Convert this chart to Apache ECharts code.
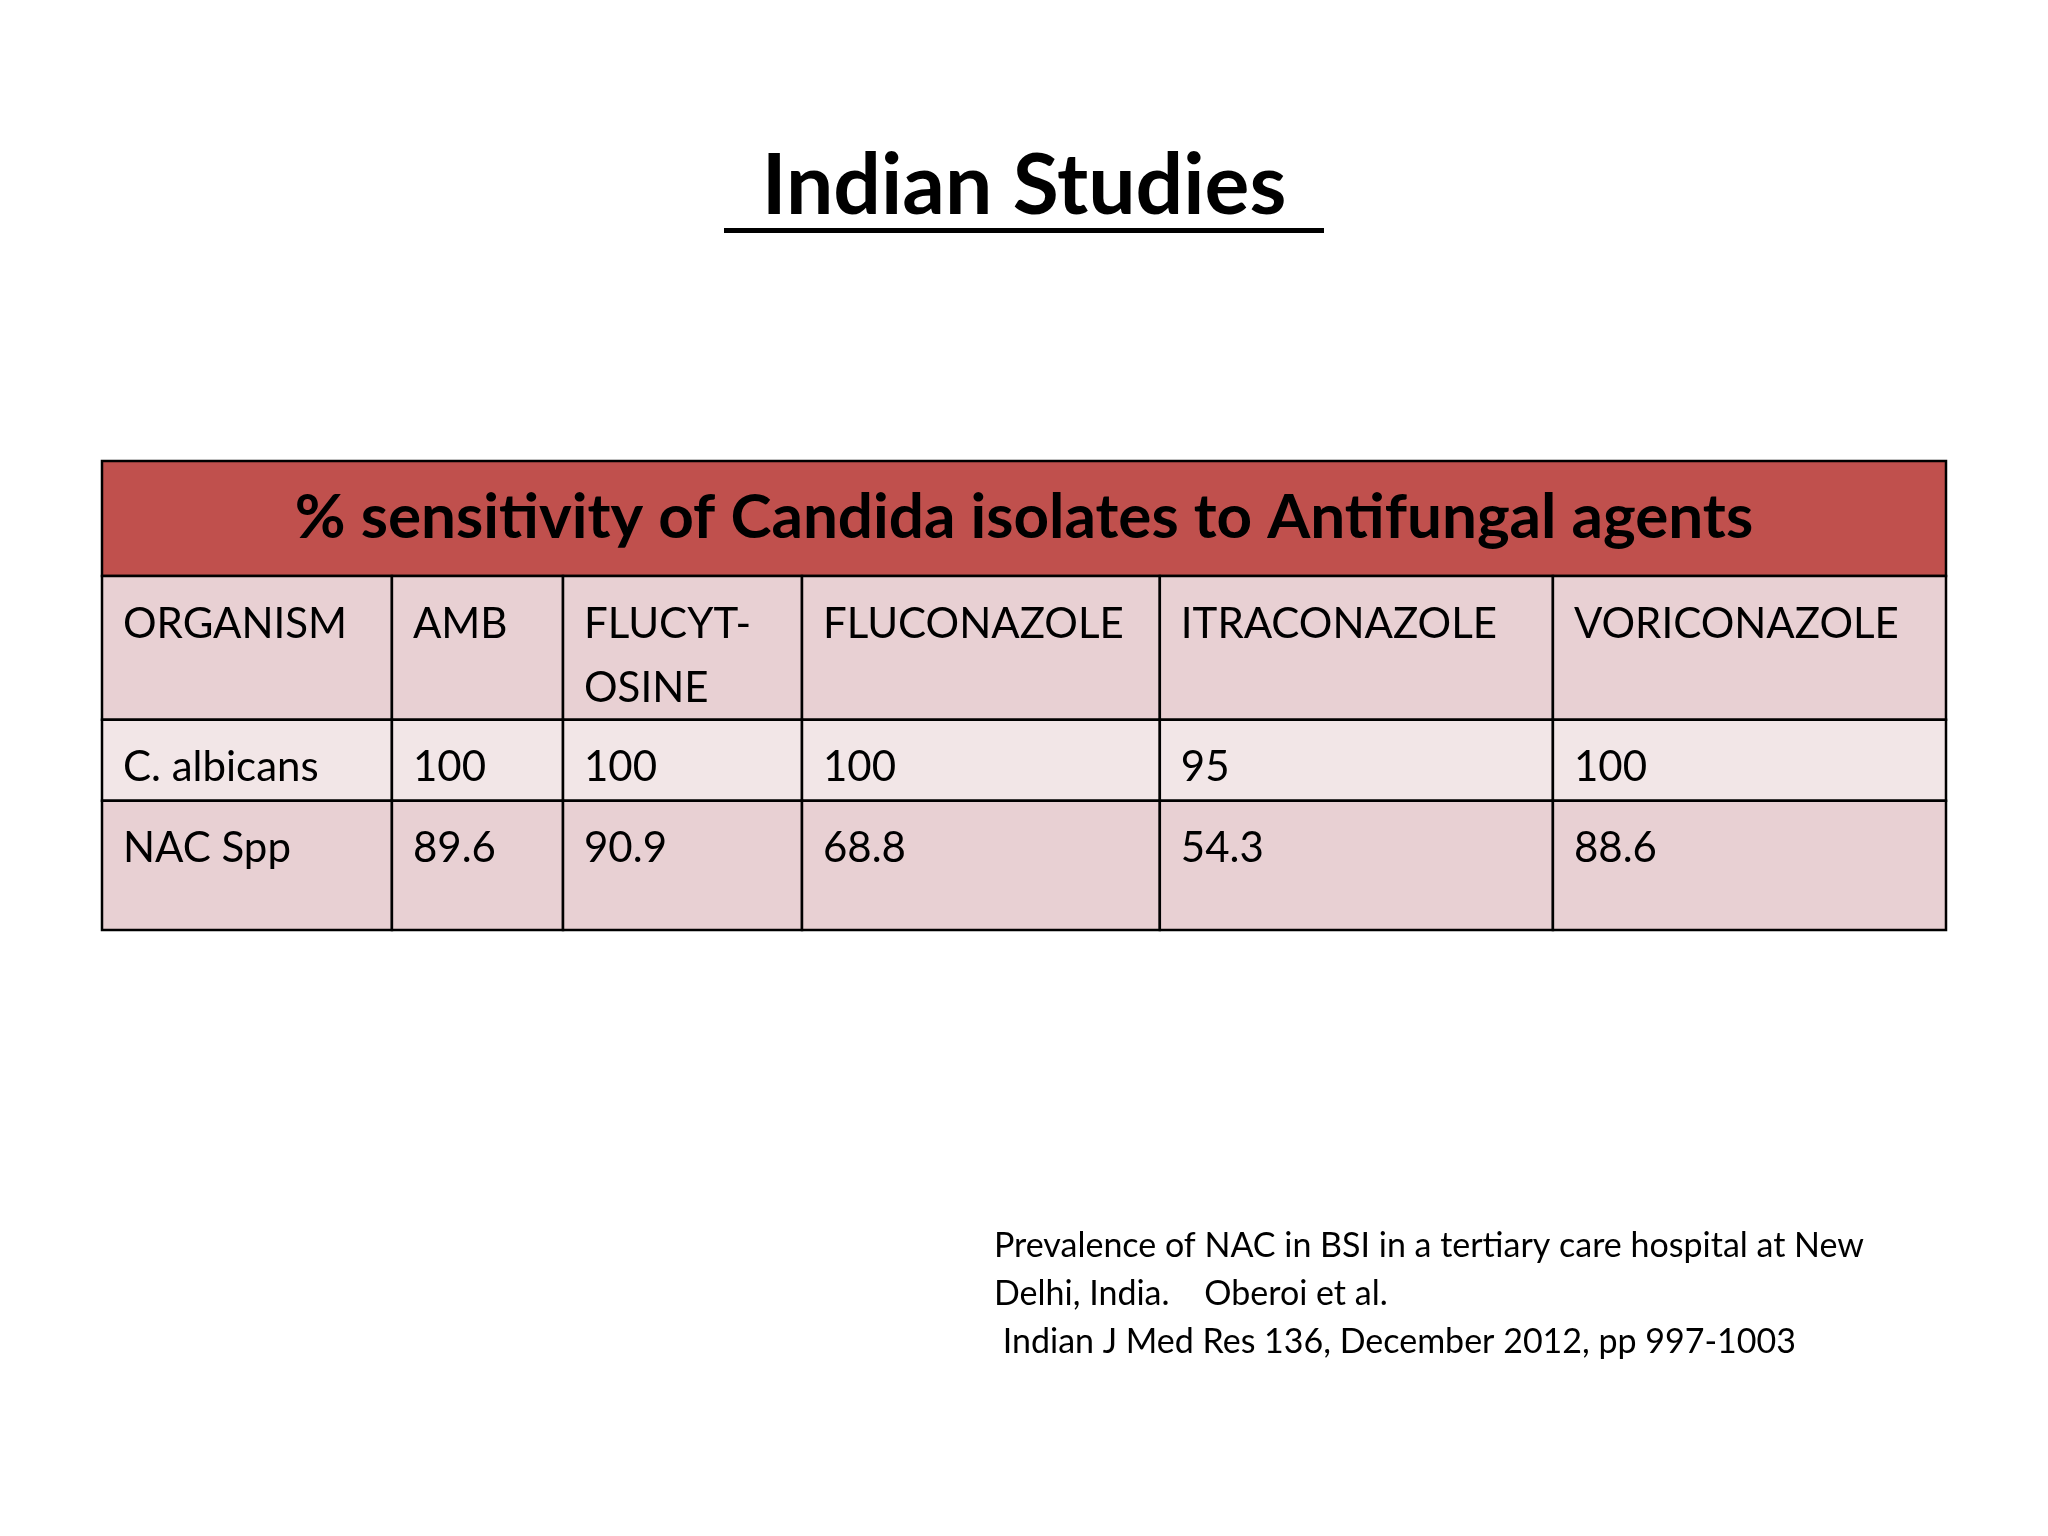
<!DOCTYPE html>
<html><head><meta charset="utf-8">
<script src="https://cdn.jsdelivr.net/npm/echarts@6/dist/echarts.min.js"></script>
<style>html,body{margin:0;background:#fff}#c{width:2048px;height:1536px}</style>
</head><body><div id="c"></div>
<script>
var tableTitle = '% sensitivity of Candida isolates to Antifungal agents';
var columns = ['ORGANISM', 'AMB', 'FLUCYT-\nOSINE', 'FLUCONAZOLE', 'ITRACONAZOLE', 'VORICONAZOLE'];
var organisms = ['C. albicans', 'NAC Spp'];
var albicans = ['100', '100', '100', '95', '100'];
var nacSpp = ['89.6', '90.9', '68.8', '54.3', '88.6'];

// layout (not data): column widths and row heights in table units
var colW = [222, 131, 183, 274, 301, 301];
var rowH = [88, 110, 62, 99];
var rowFill = ['#c0504d', '#e8d0d3', '#f2e6e7', '#e8d0d3'];

var colX = [0];
colW.forEach(function (w) { colX.push(colX[colX.length - 1] + w); });
var rowY = [0];
rowH.forEach(function (h) { rowY.push(rowY[rowY.length - 1] + h); });

var cells = [];
cells.push([0, 6, 0, tableTitle]);
var bodyRows = [columns, [organisms[0]].concat(albicans), [organisms[1]].concat(nacSpp)];
bodyRows.forEach(function (r, ri) {
    r.forEach(function (t, ci) { cells.push([ci, ci + 1, ri + 1, t]); });
});

var chart = echarts.init(document.getElementById('c'));
chart.setOption({
    animation: false,
    title: {
        text: 'Indian Studies', left: 'center', top: 140,
        textStyle: { fontFamily: 'Lato', fontWeight: 'bold', fontSize: 84, color: '#000' }
    },
    graphic: [
        { type: 'rect', shape: { x: 724, y: 228, width: 600, height: 5 }, style: { fill: '#000' } },
        {
            type: 'text', left: 994, top: 1222,
            style: {
                text: 'Prevalence of NAC in BSI in a tertiary care hospital at New\nDelhi, India.    Oberoi et al.\n Indian J Med Res 136, December 2012, pp 997-1003',
                fontFamily: 'Lato', fontSize: 34, lineHeight: 48, fill: '#000'
            }
        }
    ],
    grid: { left: 102, right: 102, top: 461, bottom: 606 },
    xAxis: { type: 'value', min: 0, max: colX[colX.length - 1], show: false },
    yAxis: { type: 'value', min: 0, max: rowY[rowY.length - 1], inverse: true, show: false },
    series: [{
        type: 'custom',
        data: cells,
        renderItem: function (params, api) {
            var c0 = api.value(0), c1 = api.value(1), r = api.value(2);
            var p0 = api.coord([colX[c0], rowY[r]]);
            var p1 = api.coord([colX[c1], rowY[r + 1]]);
            var text = cells[params.dataIndex][3];
            var isTitle = r === 0;
            return {
                type: 'group',
                children: [
                    { type: 'rect', shape: { x: p0[0], y: p0[1], width: p1[0] - p0[0], height: p1[1] - p0[1] },
                      style: { fill: rowFill[r], stroke: '#000', lineWidth: 2.5 } },
                    { type: 'text',
                      style: isTitle ? {
                          x: (p0[0] + p1[0]) / 2, y: (p0[1] + p1[1]) / 2, text: text,
                          align: 'center', verticalAlign: 'middle',
                          fontFamily: 'Lato', fontWeight: 'bold', fontSize: 62, fill: '#000'
                      } : {
                          x: p0[0] + 21, y: p0[1] + 16, text: text,
                          align: 'left', verticalAlign: 'top',
                          fontFamily: 'Lato', fontSize: 42, lineHeight: 64, fill: '#000'
                      } }
                ]
            };
        }
    }]
});
</script></body></html>
